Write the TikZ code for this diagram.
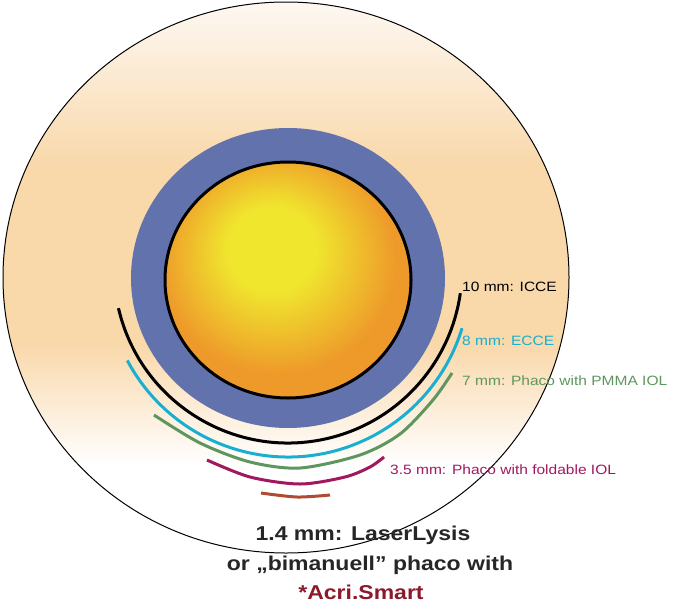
\documentclass[tikz,border=0pt]{standalone}
\usepackage{fontspec}
\setmainfont{Liberation Sans}
\newfontfamily\widesans[FakeStretch=1.15]{Liberation Sans}
\usepackage{xcolor}
\usetikzlibrary{positioning,calc}
\definecolor{peach}{HTML}{F9D8AA}
\definecolor{peachtop}{HTML}{FDF8F2}
\definecolor{ringblue}{HTML}{6272AD}
\definecolor{lensY}{HTML}{F0E62E}
\definecolor{lensO}{HTML}{EE9A2A}
\definecolor{cutcyan}{HTML}{1AAFD0}
\definecolor{cutgreen}{HTML}{5E9660}
\definecolor{cutmag}{HTML}{A0185E}
\definecolor{cutbrown}{HTML}{B04A30}
\definecolor{acri}{HTML}{8B1A2B}
\pgfdeclareradialshading{lens}{\pgfpoint{-4bp}{8bp}}{color(0bp)=(lensY); color(9bp)=(lensY); color(24bp)=(lensO); color(50bp)=(lensO)}
\pgfdeclareverticalshading{cornea}{100bp}{color(0bp)=(white); color(33bp)=(white); color(44bp)=(peach); color(60bp)=(peach); color(75bp)=(peachtop); color(100bp)=(peachtop)}

\begin{document}
\begin{tikzpicture}[x=1pt,y=-1pt,
    cut/.style={line width=3pt},
    cutlabel/.style={anchor=west,inner sep=0pt,font=\widesans\fontsize{13.5}{15}\selectfont},
    biglabel/.style={inner sep=0pt,font=\widesans\fontsize{20}{22}\selectfont\bfseries}]
    \useasboundingbox (0,0) rectangle (685,605);

    % Eye
    \shade[shading=cornea,draw=black,line width=1pt]
        (286,277.5) ellipse[x radius=283,y radius=275.5];
    \fill[ringblue] (288,278) ellipse[x radius=157,y radius=150];
    \shade[shading=lens,draw=black,line width=3pt] (288,280) ellipse[x radius=123,y radius=118];

    % Incisions
    \draw[cut,black] (288,269) ++(167:174) arc[start angle=167,end angle=8,radius=174];
    \draw[cut,cutcyan] (288,275) ++(152:182) arc[start angle=152,end angle=17,radius=182];
    \draw[cut,cutgreen] plot[smooth] coordinates {(154,415) (200,443) (250,462) (300,468) (360,455) (400,434) (433,400) (452,373)};
    \draw[cut,cutmag] plot[smooth] coordinates {(207,460) (250,477) (300,484) (345,477) (370,467) (384,457)};
    \draw[cut,cutbrown] plot[smooth] coordinates {(261,493) (297,497) (330,495)};

    % Labels
    \node[cutlabel,black] (icce) at (462,287) {10 mm: ICCE};
    \node[cutlabel,cutcyan] (ecce) at (462,341) {8 mm: ECCE};
    \node[cutlabel,cutgreen] (pmma) at (462,381) {7 mm: Phaco with PMMA IOL};
    \node[cutlabel,cutmag] (fold) at (390,470) {3.5 mm: Phaco with foldable IOL};

    \node[biglabel,black!85] (laser) at (363,535) {1.4 mm: LaserLysis};
    \node[biglabel,black!85] (biman) at (370,565) {or „bimanuell” phaco with};
    \node[biglabel,acri] (smart) at (361,592) {*Acri.Smart};
\end{tikzpicture}
\end{document}
